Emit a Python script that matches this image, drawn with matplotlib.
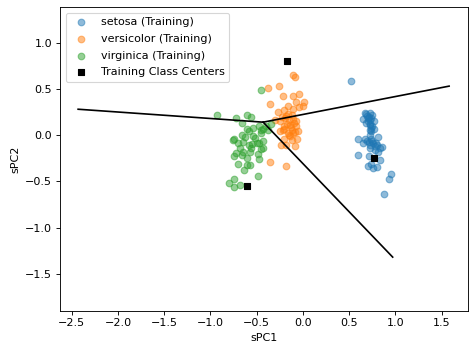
import numpy as np
import matplotlib
matplotlib.use("Agg")
import matplotlib.pyplot as plt

# ====================== data ======================
setosa_x = [0.52, 0.67, 0.72, 0.75, 0.65, 0.70, 0.73, 0.77, 0.68, 0.72, 0.75, 0.72, 0.74, 0.73,
            0.59, 0.67, 0.74, 0.81, 0.65, 0.71, 0.76, 0.80, 0.83, 0.86, 0.72, 0.78, 0.81,
            0.59, 0.71, 0.83, 0.74, 0.70, 0.76, 0.80, 0.95, 0.93, 0.88,
            0.69, 0.71, 0.74, 0.70, 0.73, 0.77, 0.69, 0.75, 0.78, 0.72, 0.68, 0.79, 0.74]
setosa_y = [0.59, 0.24, 0.24, 0.22, 0.17, 0.19, 0.16, 0.15, 0.13, 0.11, 0.10, 0.06, 0.04, 0.00,
            -0.04, -0.04, -0.04, -0.02, -0.09, -0.07, -0.09, -0.11, -0.14, -0.13, -0.14, -0.16, -0.18,
            -0.22, -0.23, -0.27, -0.31, -0.33, -0.36, -0.35, -0.42, -0.48, -0.64,
            0.21, 0.20, 0.18, 0.15, 0.12, 0.07, -0.06, -0.06, -0.12, -0.11, 0.23, -0.08, 0.08]

versicolor_x = [-0.11, -0.09, -0.38, -0.26, -0.22, -0.11, -0.04, -0.36,
                0.01, -0.08, -0.16, -0.27, -0.21, -0.11, -0.04, -0.00,
                -0.23, -0.18, -0.12, -0.30, -0.25, -0.15, -0.11,
                -0.14, -0.20, -0.12, -0.25, -0.16, -0.09, -0.05,
                -0.21, -0.12, -0.06, -0.18, -0.09, -0.24, -0.36, -0.18,
                -0.17, -0.13, -0.10, -0.19, -0.15, -0.08, -0.14, -0.20, -0.11, -0.16, -0.07, -0.22]
versicolor_y = [0.65, 0.63, 0.51, 0.53, 0.42, 0.42, 0.45, 0.34,
                0.36, 0.36, 0.31, 0.25, 0.27, 0.28, 0.30, 0.31,
                0.20, 0.21, 0.22, 0.16, 0.15, 0.16, 0.17,
                0.11, 0.07, 0.06, 0.04, 0.02, 0.03, 0.04,
                -0.04, -0.05, -0.04, -0.11, -0.12, -0.11, -0.29, -0.33,
                0.12, 0.09, 0.13, 0.18, 0.00, 0.10, -0.01, 0.10, 0.02, 0.23, 0.15, 0.05]

virginica_x = [-0.45, -0.93, -0.72, -0.61, -0.56,
               -0.61, -0.54, -0.47, -0.43, -0.34,
               -0.74, -0.66, -0.54, -0.45, -0.76,
               -0.65, -0.58, -0.50, -0.43, -0.68, -0.56, -0.45,
               -0.75, -0.66, -0.47, -0.70, -0.57, -0.64,
               -0.75, -0.49, -0.80, -0.74, -0.68,
               -0.45, -0.47, -0.43, -0.65, -0.57, -0.61, -0.52, -0.40, -0.60,
               -0.70, -0.63, -0.58, -0.49, -0.72, -0.55, -0.66, -0.38]
virginica_y = [0.49, 0.22, 0.18, 0.22, 0.20,
               0.07, 0.08, 0.10, 0.07, 0.12,
               -0.04, 0.00, -0.01, 0.02, -0.05,
               -0.07, -0.11, -0.09, -0.06, -0.14, -0.14, -0.15,
               -0.23, -0.21, -0.26, -0.31, -0.32, -0.38,
               -0.47, -0.44, -0.52, -0.56, -0.54,
               0.06, -0.09, -0.14, -0.18, -0.18, -0.32, -0.03, 0.10, -0.25,
               -0.09, -0.02, 0.04, -0.20, -0.19, -0.10, 0.13, 0.05]

centers_x = [0.77, -0.17, -0.61]
centers_y = [-0.25, 0.80, -0.55]

# decision boundaries: junction point + three end points
junction = (-0.43, 0.14)
boundary_ends_x = [-2.43, 1.58, 0.97]
boundary_ends_y = [0.28, 0.53, -1.32]

# ====================== plot ======================
DPI = 80
fig = plt.figure(figsize=(474 / DPI, 354 / DPI), dpi=DPI)
ax = fig.add_axes([60 / 474, 1 - 310.7 / 354, (467.7 - 60) / 474, (310.7 - 7.3) / 354])

ax.scatter(setosa_x, setosa_y, alpha=0.5, label='setosa (Training)')
ax.scatter(versicolor_x, versicolor_y, alpha=0.5, label='versicolor (Training)')
ax.scatter(virginica_x, virginica_y, alpha=0.5, label='virginica (Training)')
ax.scatter(centers_x, centers_y, c='k', marker='s', s=36, label='Training Class Centers')

for ex, ey in zip(boundary_ends_x, boundary_ends_y):
    ax.plot([junction[0], ex], [junction[1], ey], 'k-', linewidth=1.5)

ax.set_xlim(-2.626, 1.781)
ax.set_ylim(-1.90, 1.383)
ax.set_xlabel('sPC1')
ax.set_ylabel('sPC2')
ax.legend(loc='upper left', labelspacing=0.6)

fig.savefig('out.png', dpi=DPI)
